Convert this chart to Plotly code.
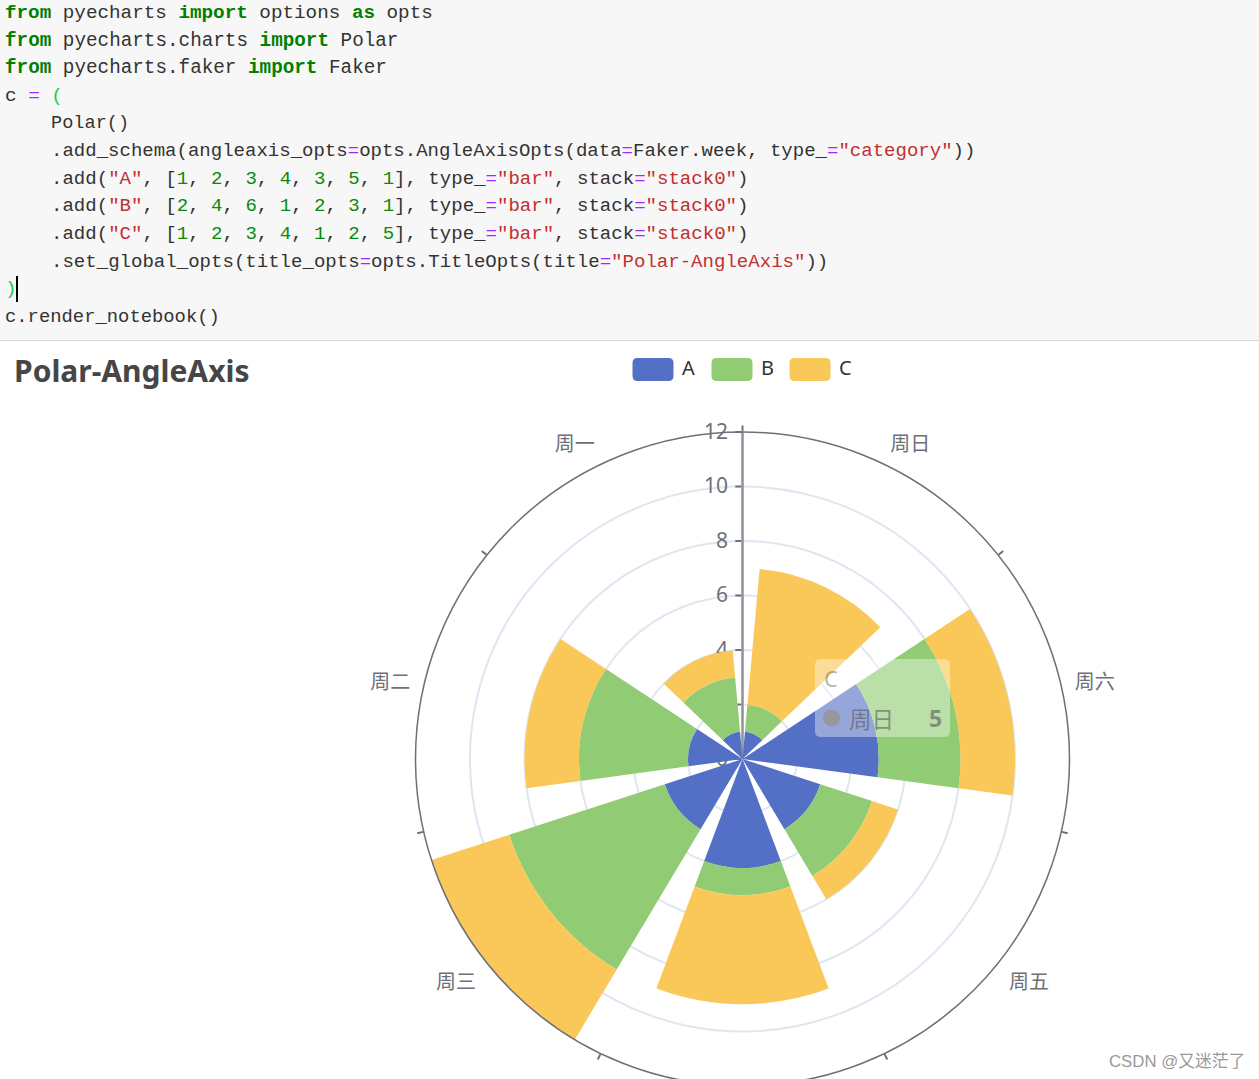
import plotly.graph_objects as go

WEEK = ["周一", "周二", "周三", "周四", "周五", "周六", "周日"]
A_VALUES = [1, 2, 3, 4, 3, 5, 1]
B_VALUES = [2, 4, 6, 1, 2, 3, 1]
C_VALUES = [1, 2, 3, 4, 1, 2, 5]
RADIAL_TICKS = [0, 2, 4, 6, 8, 10, 12]
SERIES_NAMES = ["A", "B", "C"]
COLORS = ["#5470c6", "#91cc75", "#fac858"]
TOOLTIP_SERIES = "C"
TOOLTIP_CATEGORY = "周日"
TOOLTIP_VALUE = "5"
TITLE = "Polar-AngleAxis"
WATERMARK = "CSDN @又迷茫了"

T, K, P, G, S, N = "#333333", "#008000", "#aa22ff", "#22cc44", "#c22f2f", "#0a8a0a"


def add_line(name, nums):
    row = [(".add(", T), (f'"{name}"', S), (", [", T)]
    for i, n in enumerate(nums):
        row.append((str(n), N))
        row.append((", " if i < len(nums) - 1 else "], ", T))
    row += [("type_", T), ("=", P), ('"bar"', S), (", stack", T), ("=", P), ('"stack0"', S), (")", T)]
    return row


CODE_LINES = [
    (0, 19.28, [("from", K + "b"), (" pyecharts ", T), ("import", K + "b"), (" options ", T), ("as", K + "b"), (" opts", T)]),
    (0, 19.3, [("from", K + "b"), (" pyecharts.charts ", T), ("import", K + "b"), (" Polar", T)]),
    (0, 19.3, [("from", K + "b"), (" pyecharts.faker ", T), ("import", K + "b"), (" Faker", T)]),
    (0, 19.28, [("c ", T), ("=", P), (" ", T), ("(", G)]),
    (4, 18.6, [("Polar()", T)]),
    (4, 19.03, [(".add_schema(angleaxis_opts", T), ("=", P), ("opts.AngleAxisOpts(data", T), ("=", P),
         ("Faker.week, type_", T), ("=", P), ('"category"', S), ("))", T)]),
    (4, 19.06, add_line("A", [1, 2, 3, 4, 3, 5, 1])),
    (4, 19.06, add_line("B", [2, 4, 6, 1, 2, 3, 1])),
    (4, 19.06, add_line("C", [1, 2, 3, 4, 1, 2, 5])),
    (4, 19.06, [(".set_global_opts(title_opts", T), ("=", P), ("opts.TitleOpts(title", T), ("=", P),
         ('"Polar-AngleAxis"', S), ("))", T)]),
    (0, 19.28, [(")", G)]),
    (0, 18.85, [("c.render_notebook()", T)]),
]

W, H = 1259, 1100
CX, CY, R = 742.5, 759, 327
px = lambda x: x / W
py = lambda y: 1 - y / H


def rounded(x0, y0, x1, y1, r):
    a, b, c, d = px(x0), py(y0), px(x1), py(y1)
    rx, ry = r / W, r / H
    return (f"M{a + rx},{b} L{c - rx},{b} Q{c},{b} {c},{b - ry} L{c},{d + ry} Q{c},{d} {c - rx},{d} "
            f"L{a + rx},{d} Q{a},{d} {a},{d + ry} L{a},{b - ry} Q{a},{b} {a + rx},{b} Z")


fig = go.Figure()
for name, vals, col in zip(SERIES_NAMES, [A_VALUES, B_VALUES, C_VALUES], COLORS):
    fig.add_trace(go.Barpolar(r=vals, theta=WEEK, name=name, marker=dict(color=col, line=dict(width=0)),
                              subplot="polar", showlegend=False, hoverinfo="skip"))
fig.add_trace(go.Scatterpolar(r=[None], theta=[None], subplot="polar2", showlegend=False, hoverinfo="skip"))

domain = dict(x=[px(CX - R), px(CX + R)], y=[py(CY + R), py(CY - R)])
AXIS = "#6e7079"
CJK = "Noto Sans CJK SC, Noto Sans, sans-serif"
shapes = [
    dict(type="rect", xref="paper", yref="paper", x0=0, x1=1, y0=py(340), y1=1,
         fillcolor="#f7f7f7", line=dict(width=0)),
    dict(type="line", xref="paper", yref="paper", x0=0, x1=1, y0=py(340.5), y1=py(340.5),
         line=dict(color="#d9d9d9", width=1)),
    dict(type="line", xref="paper", yref="paper", x0=px(17), x1=px(17), y0=py(276), y1=py(302),
         line=dict(color="#000000", width=2)),
]
for (x0, x1), col in zip([(632.5, 673.5), (711.5, 752.5), (789.5, 830.5)], COLORS):
    shapes.append(dict(type="path", xref="paper", yref="paper", path=rounded(x0, 358, x1, 381, 5),
                       fillcolor=col, line=dict(width=0)))
shapes.append(dict(type="path", xref="paper", yref="paper", path=rounded(815, 659, 950, 737, 6),
                   fillcolor="rgba(255,255,255,0.38)", line=dict(width=0)))
shapes.append(dict(type="circle", xref="paper", yref="paper", x0=px(823), x1=px(840), y0=py(709.5), y1=py(726.5),
                   fillcolor="#9a96a0", line=dict(width=0)))

annotations = []


def label(x, y, text, size, color, family=CJK, anchor="left"):
    annotations.append(dict(xref="paper", yref="paper", x=px(x), y=py(y), text=text, showarrow=False,
                            xanchor=anchor, yanchor="middle", borderpad=0, borderwidth=0,
                            font=dict(size=size, color=color, family=family)))


for i, (indent, size, parts) in enumerate(CODE_LINES):
    html = ""
    for text, col in parts:
        text = text.replace(" ", "\u00a0")
        if col.endswith("b"):
            html += f'<b><span style="color:{col[:-1]}">{text}</span></b>'
        else:
            html += f'<span style="color:{col}">{text}</span>'
    label(5 + indent * 11.57, 13 + i * 27.62, html, size, T, "Liberation Mono, monospace")

label(14, 370, f"<b>{TITLE}</b>", 30, "#464646", "Noto Sans, sans-serif")
for x, name in zip([682, 761, 839], SERIES_NAMES):
    label(x, 368, name, 20, "#333333", "Noto Sans, sans-serif")
label(824, 678, TOOLTIP_SERIES, 22, "rgba(90,90,90,0.45)", "Noto Sans, sans-serif")
label(849, 717.5, TOOLTIP_CATEGORY, 22.5, "rgba(90,90,90,0.6)")
label(942, 717.5, f"<b>{TOOLTIP_VALUE}</b>", 23, "rgba(90,90,90,0.6)", "Noto Sans, sans-serif", "right")
label(1245, 1061, WATERMARK, 16.8, "#999999", "Liberation Sans, Noto Sans CJK SC, sans-serif", "right")

band = 360 / len(WEEK)
fig.update_layout(
    width=W, height=H, margin=dict(l=0, r=0, t=0, b=0), paper_bgcolor="white",
    font=dict(family=CJK), shapes=shapes, annotations=annotations, showlegend=False, hovermode=False,
    polar=dict(
        domain=domain, bgcolor="white", barmode="stack", bargap=0.2,
        angularaxis=dict(type="category", categoryorder="array", categoryarray=WEEK,
                         direction="counterclockwise", rotation=90 + band / 2,
                         showgrid=False, showline=True, linecolor=AXIS, linewidth=1.5,
                         ticks="outside", ticklen=9, tickcolor="rgba(0,0,0,0)",
                         tickfont=dict(size=20, color=AXIS, family=CJK)),
        radialaxis=dict(range=[0, 12], tickvals=RADIAL_TICKS, angle=90, side="counterclockwise",
                        layer="below traces", showgrid=True, gridcolor="#e0e6f1", gridwidth=1.5,
                        showline=True, linecolor="#8f9098", linewidth=2.5,
                        ticks="outside", ticklen=6, tickcolor=AXIS, tickwidth=1.5,
                        tickangle=90, tickfont=dict(size=21, color=AXIS, family="Noto Sans, sans-serif")),
    ),
    polar2=dict(
        domain=domain, bgcolor="rgba(0,0,0,0)",
        angularaxis=dict(type="linear", thetaunit="degrees", direction="counterclockwise", rotation=90,
                         tickmode="array", tickvals=[i * band for i in range(len(WEEK))],
                         ticktext=[""] * len(WEEK), showgrid=False, showline=False,
                         ticks="outside", ticklen=6, tickcolor=AXIS, tickwidth=1.5),
        radialaxis=dict(visible=False),
    ),
)

fig.write_html("out.html", config=dict(displayModeBar=False),
               post_script="document.body.style.margin='0';document.documentElement.style.overflow='hidden';document.body.style.overflow='hidden';")
